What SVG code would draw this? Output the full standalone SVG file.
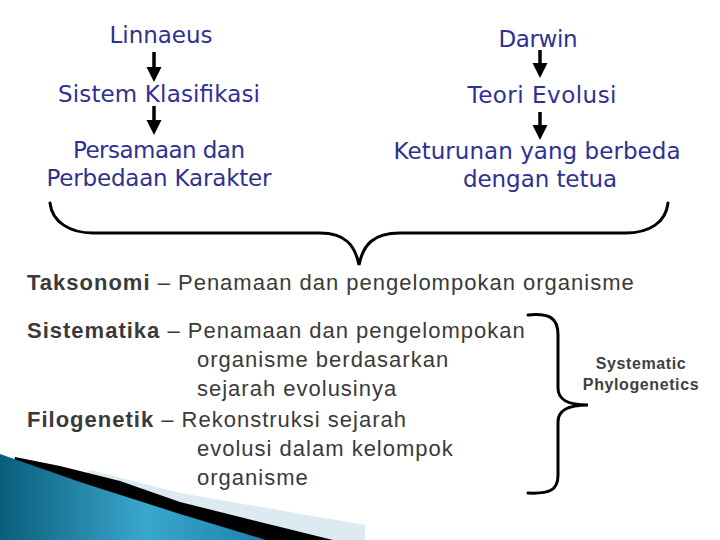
<svg xmlns="http://www.w3.org/2000/svg" width="720" height="540" viewBox="0 0 720 540">
<defs>
<style>
.top{font-family:"DejaVu Sans","Noto Sans",sans-serif;font-size:23px;fill:#2E3192;text-anchor:middle}
.body{font-family:"Liberation Sans",Arial,sans-serif;font-size:22px;fill:#3a3a3a;letter-spacing:1px}
.b{font-weight:bold}
.side{font-family:"Liberation Sans",Arial,sans-serif;font-size:16px;font-weight:bold;fill:#404040;text-anchor:middle;letter-spacing:0.6px}
.shaft{stroke:#000;stroke-width:3.5;fill:none}
.head{fill:#000}
.brace{stroke:#000;stroke-width:3;fill:none;stroke-linecap:round}
</style>
<linearGradient id="blue" x1="0" y1="0" x2="1" y2="0">
<stop offset="0" stop-color="#0A5E7B"/>
<stop offset="0.55" stop-color="#3AA7CE"/>
<stop offset="1" stop-color="#1A83AB"/>
</linearGradient>
</defs>
<rect width="720" height="540" fill="#fff"/>
<g id="decoration">
<polygon points="90,470 180,493 365,525 365,540 0,540" fill="#DCEAF1"/>
<polygon points="15,457 60,466 120,481 180,502 260,522 333,540 0,540" fill="#000"/>
<polygon points="0,454 80,482 180,514 266,540 0,540" fill="url(#blue)"/>
</g>
<g id="linnaeus"><text class="top" x="161" y="43" textLength="103">Linnaeus</text></g>
<g id="sistem-klasifikasi"><text class="top" x="159" y="102" textLength="202">Sistem Klasifikasi</text></g>
<g id="persamaan"><text class="top" x="159" y="158" textLength="172">Persamaan dan</text><text class="top" x="159" y="186" textLength="225">Perbedaan Karakter</text></g>
<g id="darwin"><text class="top" x="538" y="47" textLength="79">Darwin</text></g>
<g id="teori-evolusi"><text class="top" x="542" y="103" textLength="149">Teori Evolusi</text></g>
<g id="keturunan"><text class="top" x="537" y="159" textLength="287">Keturunan yang berbeda</text><text class="top" x="540" y="187" textLength="154">dengan tetua</text></g>
<g id="connectors">
<line class="shaft" x1="154" y1="52" x2="154" y2="69"/><polygon class="head" points="146.5,67 161.5,67 154,82"/>
<line class="shaft" x1="154" y1="106" x2="154" y2="122"/><polygon class="head" points="146.5,120 161.5,120 154,135"/>
<line class="shaft" x1="540" y1="50" x2="540" y2="65"/><polygon class="head" points="532.5,63 547.5,63 540,78"/>
<line class="shaft" x1="540" y1="112" x2="540" y2="127"/><polygon class="head" points="532.5,125 547.5,125 540,140"/>
<path class="brace" d="M50,203 C52,222 70,233 93,233 L320,233 C345,233 355,245 359,265 C363,245 373,233 400,233 L625,233 C650,233 666,222 668,203"/>
<path class="brace" d="M528,315 C550,313 558,318 558,335 L558,388 C558,400 568,405 588,405 C568,405 558,410 558,422 L558,475 C558,490 550,494 528,493"/>
</g>
<g id="taksonomi"><text class="body" x="27" y="290"><tspan class="b">Taksonomi</tspan> – Penamaan dan pengelompokan organisme</text></g>
<g id="sistematika">
<text class="body" x="27" y="338"><tspan class="b">Sistematika</tspan> – Penamaan dan pengelompokan</text>
<text class="body" x="197" y="367">organisme berdasarkan</text>
<text class="body" x="197" y="396">sejarah evolusinya</text>
</g>
<g id="filogenetik">
<text class="body" x="27" y="427"><tspan class="b">Filogenetik</tspan> – Rekonstruksi sejarah</text>
<text class="body" x="197" y="456">evolusi dalam kelompok</text>
<text class="body" x="197" y="485">organisme</text>
</g>
<g id="systematic-phylogenetics">
<text class="side" x="641" y="369">Systematic</text>
<text class="side" x="641" y="390">Phylogenetics</text>
</g>
</svg>
